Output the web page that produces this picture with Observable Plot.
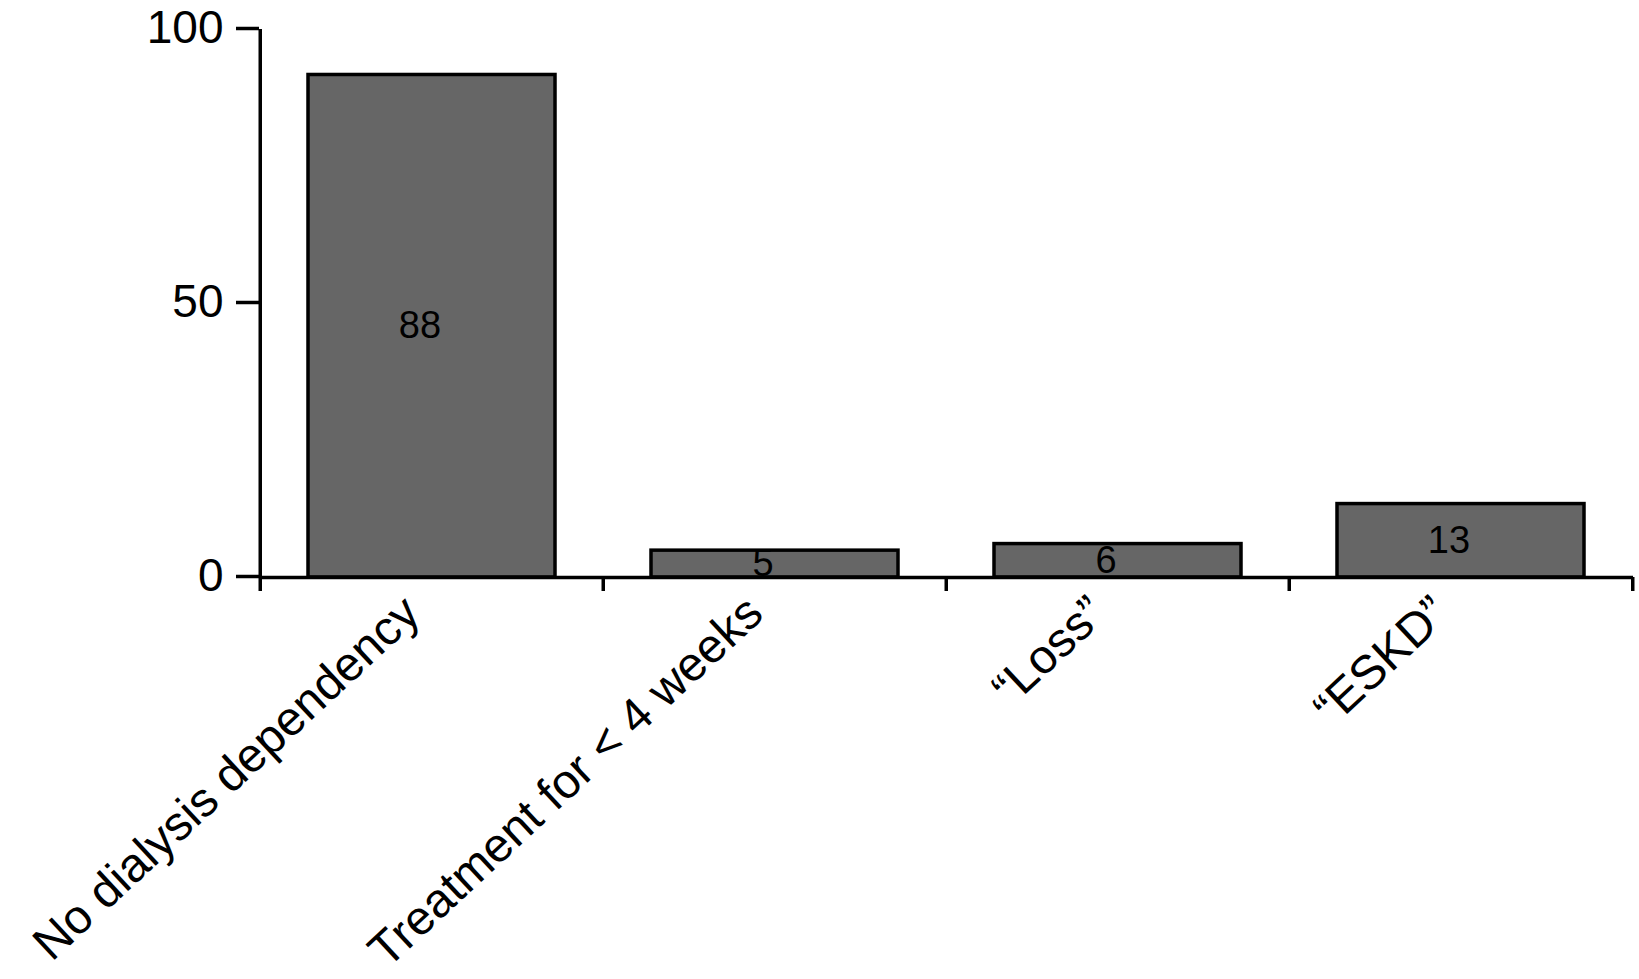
<!DOCTYPE html>
<html>
<head>
<meta charset="utf-8">
<script src="https://cdn.jsdelivr.net/npm/d3@7"></script>
<script src="https://cdn.jsdelivr.net/npm/@observablehq/plot@0.6"></script>
<style>
  html, body { margin: 0; padding: 0; background: #fff; }
</style>
</head>
<body>
<div id="chart"></div>
<script>
// Data
const categories = ["No dialysis dependency", "Treatment for < 4 weeks", "\u201CLoss\u201D", "\u201CESKD\u201D"];
const barValues = [91.7, 4.9, 6.1, 13.4];   // bar heights as drawn
const barLabels = ["88", "5", "6", "13"];   // numbers printed in the bars
const yTicks = [0, 50, 100];

const rows = categories.map((c, i) => ({category: c, value: barValues[i], label: barLabels[i]}));

const W = 1639, H = 979;
const mL = 259, mR = 6, mT = 29, mB = 402;
const step = (W - mL - mR) / categories.length;

const chart = Plot.plot({
  width: W,
  height: H,
  marginLeft: mL,
  marginRight: mR,
  marginTop: mT,
  marginBottom: mB,
  style: {fontFamily: "'Liberation Sans', Arial, Helvetica, sans-serif", fontSize: "46px", background: "#fff", color: "#000", overflow: "visible"},
  x: {domain: categories, paddingInner: 0.28, paddingOuter: 0.14, label: null},
  y: {domain: [0, 100], label: null},
  marks: [
    Plot.barY(rows, {x: "category", y: "value", fill: "#666666", stroke: "#000", strokeWidth: 3.5}),
    Plot.text(rows, {x: "category", y: d => d.value / 2, text: "label", fontSize: 38, fill: "#000", dx: -12}),
    // x axis line
    Plot.ruleY([0], {stroke: "#000", strokeWidth: 3.5}),
    // y axis line, extending slightly below baseline
    Plot.ruleX([categories[0]], {y1: 100, y2: 0, dx: -step / 2, insetBottom: -14, stroke: "#000", strokeWidth: 3.5}),
    // boundary ticks between categories
    Plot.ruleX(categories.slice(1), {y1: 0, y2: 0, dx: -step / 2, insetBottom: -14, stroke: "#000", strokeWidth: 3.5}),
    Plot.ruleX([categories[categories.length - 1]], {y1: 0, y2: 0, dx: step / 2, insetBottom: -14, stroke: "#000", strokeWidth: 3.5}),
    Plot.axisY({ticks: yTicks, tickSize: 23, tickPadding: 13, fontSize: 46, stroke: "#000", strokeWidth: 3.5, fill: "#000", dy: -1}),
    Plot.axisX({tickSize: 0, tickRotate: -43, tickPadding: 28, fontSize: 48, fill: "#000", dx: -20})
  ]
});
document.getElementById("chart").appendChild(chart);
</script>
</body>
</html>
